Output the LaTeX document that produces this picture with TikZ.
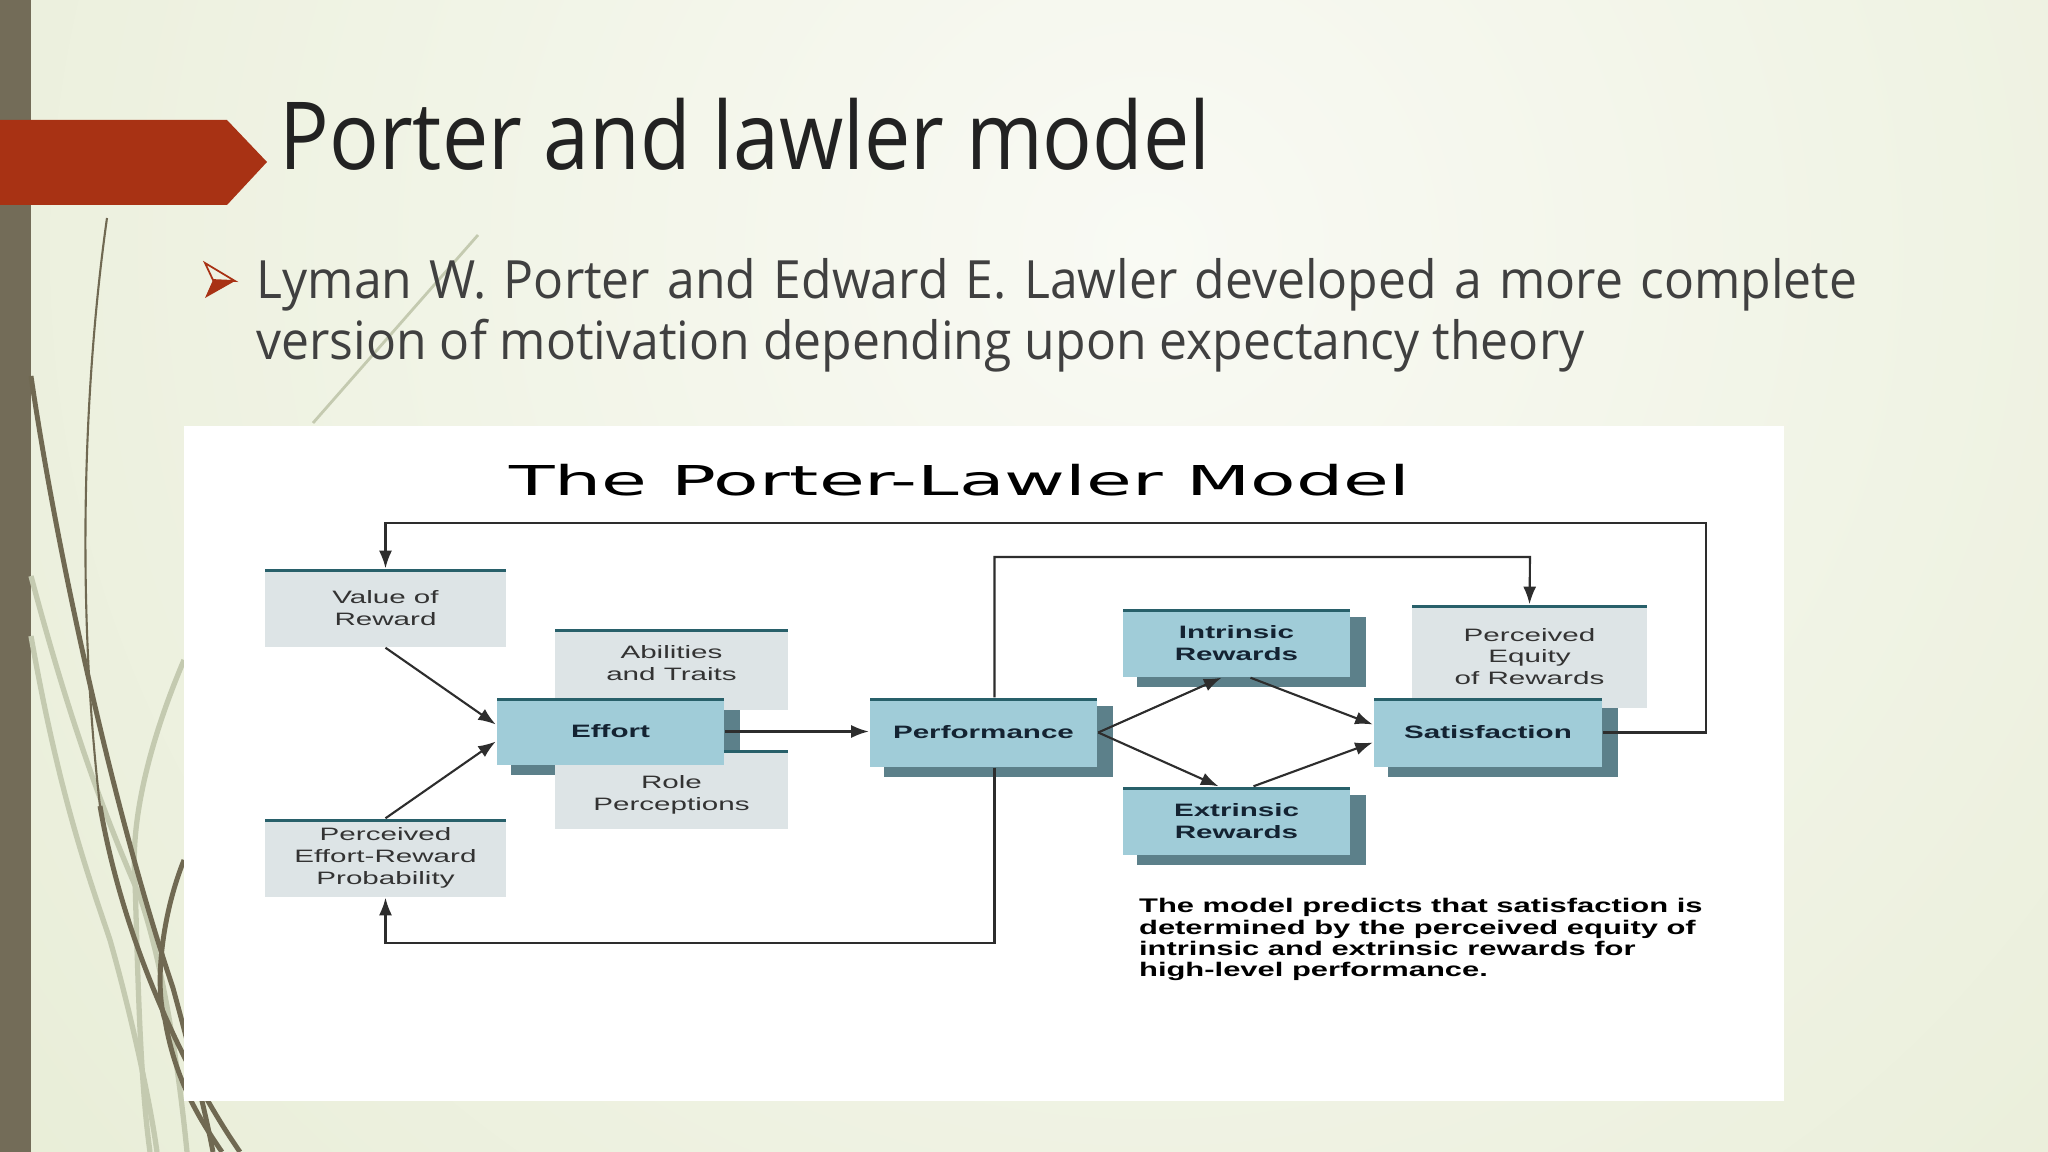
\documentclass[tikz,border=0pt]{standalone}
\usepackage{fontspec}
\setmainfont{Open Sans}
\newfontfamily\boxfont{Liberation Sans}
\newfontfamily\headfont{DejaVu Sans}
\usepackage{tikz}
\usetikzlibrary{positioning,arrows.meta,calc}

\definecolor{slidebg}{RGB}{224,231,201}
\definecolor{slidelight}{RGB}{249,250,244}
\definecolor{barbrown}{RGB}{115,108,88}
\definecolor{bannerred}{RGB}{168,50,20}
\definecolor{titletext}{RGB}{34,34,34}
\definecolor{bodytext}{RGB}{64,64,64}
\definecolor{swoosh}{RGB}{112,105,82}
\definecolor{swooshlight}{RGB}{196,202,176}
\definecolor{boxgray}{RGB}{221,228,230}
\definecolor{boxblue}{RGB}{160,204,216}
\definecolor{boxline}{RGB}{40,96,106}
\definecolor{boxshadow}{RGB}{92,128,138}
\definecolor{wiregray}{RGB}{45,45,45}
\definecolor{keytext}{RGB}{20,35,50}

\pgfdeclarelayer{back}
\pgfdeclarelayer{shade}
\pgfsetlayers{back,shade,main}

\tikzset{
  topbar/.style={path picture={\fill[boxline] (path picture bounding box.north west) rectangle ([yshift=-0.9pt]path picture bounding box.north east);}},
  plainbox/.style={fill=boxgray, topbar, xscale=1.65, inner sep=0pt, align=center, text=black!80,
    font=\boxfont\fontsize{5.1}{6.2}\selectfont},
  keybox/.style={fill=boxblue, topbar, xscale=1.65, inner sep=0pt, align=center, text=keytext,
    font=\boxfont\bfseries\fontsize{5.1}{6.2}\selectfont},
  slidetext/.style={anchor=base west, inner sep=0pt, text=bodytext, xscale=0.945,
    font=\fontsize{15}{18}\selectfont},
  wire/.style={draw=wiregray, line width=0.6pt},
  flow/.style={wire, -{Latex[length=5pt,width=3.7pt]}},
}

\begin{document}
\begin{tikzpicture}[x=0.01cm, y=-0.01cm]
\useasboundingbox (0,0) rectangle (2048,1152);

% slide background
\begin{pgfonlayer}{back}
  \fill[slidebg] (0,0) rectangle (2048,1152);
  \begin{scope}
    \clip (0,0) rectangle (2048,1152);
    \shade[inner color=slidelight, outer color=slidebg] (1150,250) circle (22cm);
  \end{scope}
  \fill[barbrown] (0,0) rectangle (31,1152);
  % swooshes
  \draw[swooshlight, line width=1.5pt] (31,576) .. controls (80,760) and (120,850) .. (140,897)
    .. controls (165,970) and (180,1080) .. (187,1152);
  \draw[swooshlight, line width=1.5pt] (31,636) .. controls (60,800) and (90,880) .. (110,940)
    .. controls (130,1010) and (150,1100) .. (157,1152);
  \draw[swooshlight, line width=1.5pt] (184,660) .. controls (150,740) and (130,820) .. (135,880)
    .. controls (138,980) and (140,1080) .. (150,1152);
  \draw[swoosh, line width=0.6pt] (107,218) .. controls (84,380) and (76,600) .. (100,806);
  \draw[swoosh, line width=1.4pt] (100,806) .. controls (125,950) and (190,1080) .. (240,1152);
  \draw[swoosh, line width=1.4pt] (31,376) .. controls (55,540) and (110,800) .. (173,988)
    .. controls (190,1050) and (205,1110) .. (213,1152);
  \draw[swoosh, line width=1.4pt] (184,860) .. controls (160,920) and (155,990) .. (165,1020)
    .. controls (175,1080) and (200,1120) .. (222,1152);
  \draw[swooshlight, line width=0.8pt] (478,235) -- (313,423);
  \fill[bannerred] (0,120) -- (227,120) -- (267,162) -- (227,205) -- (0,205) -- cycle;
  \fill[white] (184,426) rectangle (1784,1101);
\end{pgfonlayer}

% slide texts
\node[anchor=base west, inner sep=0pt, text=titletext, xscale=0.88,
  font=\fontsize{26.7}{32}\selectfont] (slidetitle) at (279,170) {Porter and lawler model};
\draw[bannerred, line width=0.5pt] (205,263) -- (235,281) -- (213,280) -- cycle;
\fill[bannerred] (213,280) -- (235,281) -- (205,298) -- cycle;
\node[slidetext] (lineone) at (256,299)
  {\makebox[16.93cm][s]{Lyman W. Porter and Edward E. Lawler developed a more complete}};
\node[slidetext] (linetwo) at (256,360)
  {version of motivation depending upon expectancy theory};

% model
\node[anchor=base west, inner sep=0pt, xscale=1.81,
  font=\headfont\fontsize{11.7}{14}\selectfont] (modeltitle) at (508,495) {The Porter-Lawler Model};

\node[plainbox, minimum width=1.461cm, minimum height=0.78cm] (val) at (385.5,608) {Value of\\Reward};
\node[plainbox, minimum width=1.461cm, minimum height=0.78cm] (per) at (385.5,858) {Perceived\\Effort-Reward\\Probability};
\node[plainbox, minimum width=1.412cm, minimum height=0.81cm] (abl) at (671.5,669.5) {Abilities\\and Traits\\[-2.5pt]\mbox{}};
\node[plainbox, minimum width=1.412cm, minimum height=0.79cm] (rol) at (671.5,789.5) {\mbox{}\\[0.4pt]Role\\Perceptions};
\node[plainbox, minimum width=1.424cm, minimum height=1.03cm] (equ) at (1529.5,656.5) {Perceived\\Equity\\of Rewards};
\node[keybox, minimum width=1.376cm, minimum height=0.67cm] (eff) at (610.5,731.5) {Effort};
\node[keybox, minimum width=1.376cm, minimum height=0.69cm] (perf) at (983.5,732.5) {Performance};
\node[keybox, minimum width=1.376cm, minimum height=0.68cm] (intr) at (1236.5,643) {Intrinsic\\Rewards};
\node[keybox, minimum width=1.376cm, minimum height=0.68cm] (extr) at (1236.5,821) {Extrinsic\\Rewards};
\node[keybox, minimum width=1.382cm, minimum height=0.69cm] (sat) at (1488,732.5) {Satisfaction};

\begin{pgfonlayer}{shade}
  \foreach \n in {eff,perf,intr,extr,sat}
    \fill[boxshadow] ($(\n.south west)+(15,9)$) rectangle ($(\n.north east)+(15,9)$);
\end{pgfonlayer}

\draw[flow] (val.south) -- ($(eff.west)+(0,-7)$);
\draw[flow] (per.north) -- ($(eff.west)+(0,10)$);
\draw[flow] (eff.east) -- (eff.east -| perf.west);
\draw[flow] (perf.east) -- ($(intr.south)+(-15,0)$);
\draw[flow] (perf.east) -- ($(extr.north)+(-18,0)$);
\draw[flow] ($(intr.south)+(14,0)$) -- ($(sat.west)+(0,-8)$);
\draw[flow] ($(extr.north)+(17,0)$) -- ($(sat.west)+(0,10)$);
\coordinate (loopne) at (1706,523);
\draw[flow] (sat.east) -| (loopne) -| (val.north);
\coordinate (loopmid) at (1530,557);
\draw[flow] ($(perf.north)+(11,0)$) |- (loopmid) -- (equ.north);
\coordinate (loopsw) at (385.5,943);
\draw[flow] ($(perf.south)+(11,0)$) |- (loopsw) -- (per.south);

\node[anchor=north west, inner sep=0pt, align=left, xscale=1.57, text=black,
  font=\boxfont\bfseries\fontsize{5.6}{6.0}\selectfont] (note) at (1138,898)
  {The model predicts that satisfaction is\\determined by the perceived equity of\\intrinsic and extrinsic rewards for\\high-level performance.};
\end{tikzpicture}
\end{document}
